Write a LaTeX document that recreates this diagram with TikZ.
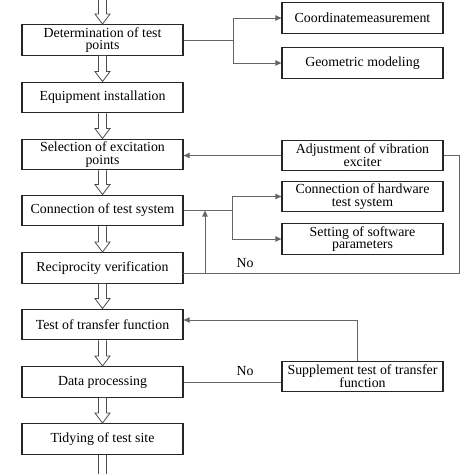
\documentclass[tikz,border=0pt]{standalone}
\usepackage{fontspec}
\setmainfont{Liberation Serif}
\usetikzlibrary{arrows.meta,calc}
\tikzset{
  x=0.75pt,y=-0.75pt,
  box/.style={draw=black!85,line width=0.9pt,fill=white,minimum width=120.75pt,minimum height=23pt,inner sep=1pt,align=center,font=\fontsize{10.4}{9.6}\selectfont},
  conn/.style={draw=black!60,line width=0.7pt},
  tip/.style={-{Triangle[length=4.5pt,width=4pt]}},
  harrow/.style={draw=black!70,line width=0.6pt,fill=white},
  lbl/.style={font=\fontsize{10.4}{11}\selectfont,inner sep=0pt}
}
\newcommand\blockarrow[2]{%
  \path[harrow] let \p1=(#1), \p2=(#2) in
   (\x1-3pt,\y1) -- (\x1-3pt,\y2+7.5pt) -- (\x1-5.6pt,\y2+7.5pt) -- (\x1,\y2)
   -- (\x1+5.6pt,\y2+7.5pt) -- (\x1+3pt,\y2+7.5pt) -- (\x1+3pt,\y1);}
\begin{document}
\begin{tikzpicture}
\useasboundingbox (0,0) rectangle (474,474);
% left column
\node[box] (b1) at (102.5,40) {Determination of test\\points};
\node[box] (b2) at (102.5,97.5) {Equipment installation};
\node[box] (b3) at (102.5,154.5) {Selection of excitation\\points};
\node[box] (b4) at (102.5,210.5) {Connection of test system};
\node[box] (b5) at (102.5,268) {Reciprocity verification};
\node[box] (b6) at (102.5,324.5) {Test of transfer function};
\node[box] (b7) at (102.5,382) {Data processing};
\node[box] (b8) at (102.5,439) {Tidying of test site};
% right column
\node[box] (r1) at (362.5,18) {Coordinatemeasurement};
\node[box] (r2) at (362.5,63) {Geometric modeling};
\node[box] (r3) at (362.5,155.5) {Adjustment of vibration\\exciter};
\node[box] (r4) at (362.5,196.5) {Connection of hardware\\test system};
\node[box] (r5) at (362.5,239) {Setting of software\\parameters};
\node[box] (r6) at (362.5,376.5) {Supplement test of transfer\\function};
% block arrows
\coordinate (top) at (102.5,-2);
\blockarrow{top}{b1.north}
\blockarrow{b1.south}{b2.north}
\blockarrow{b2.south}{b3.north}
\blockarrow{b3.south}{b4.north}
\blockarrow{b4.south}{b5.north}
\blockarrow{b5.south}{b6.north}
\blockarrow{b6.south}{b7.north}
\blockarrow{b7.south}{b8.north}
\coordinate (bot) at (102.5,476);
\path[harrow] let \p1=(b8.south), \p2=(bot) in (\x1-3pt,\y1) -- (\x1-3pt,\y2) (\x1+3pt,\y1) -- (\x1+3pt,\y2);
% connectors
\coordinate (j1) at (233,40);
\draw[conn] (b1.east) -- (j1);
\draw[conn,tip] (j1) |- (r1.west);
\draw[conn,tip] (j1) |- (r2.west);
\draw[conn,tip] (r3.west) -- (r3.west -| b3.east);
\coordinate (c5) at (183,273);
\coordinate (k1) at (459,155.5);
\draw[conn] (r3.east) -- (k1) |- (c5);
\coordinate (j4) at (232,210.5);
\draw[conn] (b4.east) -- (j4);
\draw[conn,tip] (j4) |- (r4.west);
\draw[conn,tip] (j4) |- (r5.west);
\coordinate (u1) at (205,273);
\draw[conn,tip] (u1) -- (u1 |- b4.east);
\node[lbl] (no1) at (245,263) {No};
\draw[conn] (b7.east) -- (b7.east -| r6.west);
\node[lbl] (no2) at (245,371) {No};
\coordinate (s1) at (357,320);
\draw[conn,tip] (s1 |- r6.north) -- (s1) -- (s1 -| b6.east);
\end{tikzpicture}
\end{document}
